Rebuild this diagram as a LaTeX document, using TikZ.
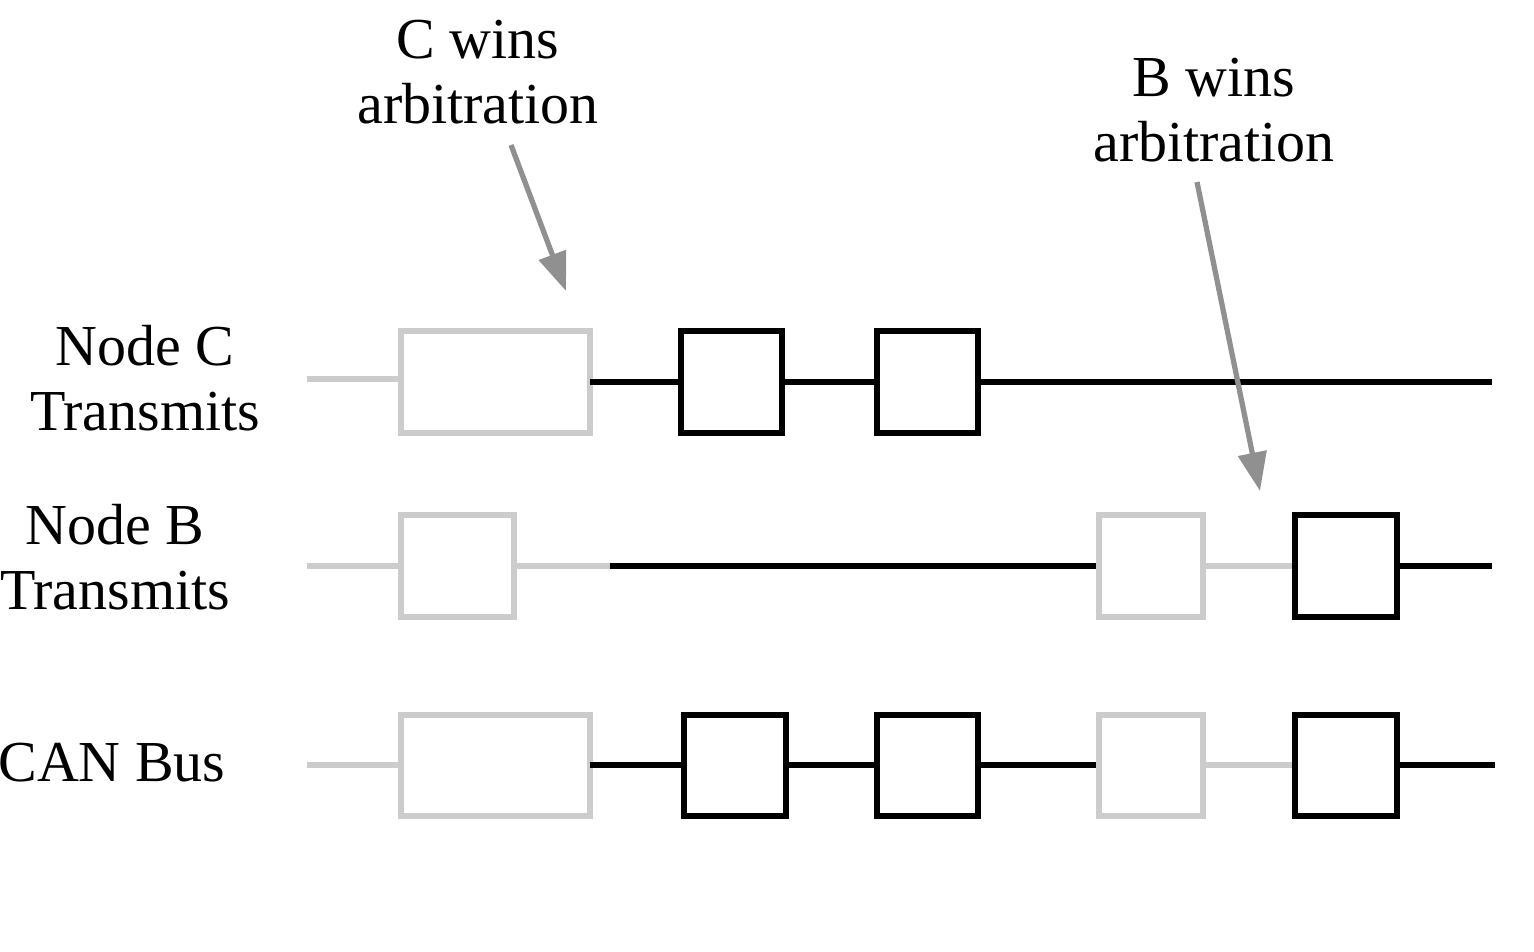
\documentclass[tikz,border=0pt]{standalone}
\usepackage{fontspec}
\setmainfont{Liberation Serif}
\usetikzlibrary{arrows.meta}
\definecolor{lg}{HTML}{CCCCCC}
\definecolor{ag}{HTML}{909090}
\begin{document}
\begin{tikzpicture}[x=0.02cm,y=-0.02cm,
  g/.style={lg,line width=3pt},
  b/.style={black,line width=3.4pt},
  lbl/.style={font=\fontsize{33}{37}\selectfont,align=center,inner sep=0pt},
  arr/.style={ag,line width=3pt,-{Triangle[length=22pt,width=16pt]}}]
\useasboundingbox (0,0) rectangle (1534,951);
% labels
\node[lbl] (cw) at (478,72) {C wins\\arbitration};
\node[lbl] (bw) at (1214,110) {B wins\\arbitration};
\node[lbl] (nc) at (145,378) {Node C\\Transmits};
\node[lbl] (nb) at (115,557) {Node B\\Transmits};
\node[lbl] (cb) at (112,763) {CAN Bus};
% Node C row
\draw[g] (307,379)--(401,379);
\draw[g] (401,331) rectangle (590,433);
\draw[b] (590,382)--(681,382);
\draw[b] (681,331) rectangle (782,433);
\draw[b] (782,382)--(877,382);
\draw[b] (877,331) rectangle (978,433);
\draw[b] (978,382)--(1492,382);
% Node B row
\draw[g] (307,566)--(401,566);
\draw[g] (401,515) rectangle (514,617);
\draw[g] (514,566)--(610,566);
\draw[b] (610,566)--(1099,566);
\draw[g] (1099,515) rectangle (1203,617);
\draw[g] (1203,566)--(1295,566);
\draw[b] (1295,515) rectangle (1397,617);
\draw[b] (1397,566)--(1492,566);
% CAN bus
\draw[g] (307,765)--(401,765);
\draw[g] (401,715) rectangle (590,816);
\draw[b] (590,765)--(684,765);
\draw[b] (684,715) rectangle (786,816);
\draw[b] (786,765)--(877,765);
\draw[b] (877,715) rectangle (978,816);
\draw[b] (978,765)--(1099,765);
\draw[g] (1099,715) rectangle (1203,816);
\draw[g] (1203,765)--(1295,765);
\draw[b] (1295,715) rectangle (1397,816);
\draw[b] (1397,765)--(1495,765);
% arrows
\coordinate (a1) at (511,145); \coordinate (a2) at (566,291);
\coordinate (b1) at (1197,182); \coordinate (b2) at (1260,491);
\draw[arr] (a1)--(a2);
\draw[arr] (b1)--(b2);
\end{tikzpicture}
\end{document}
